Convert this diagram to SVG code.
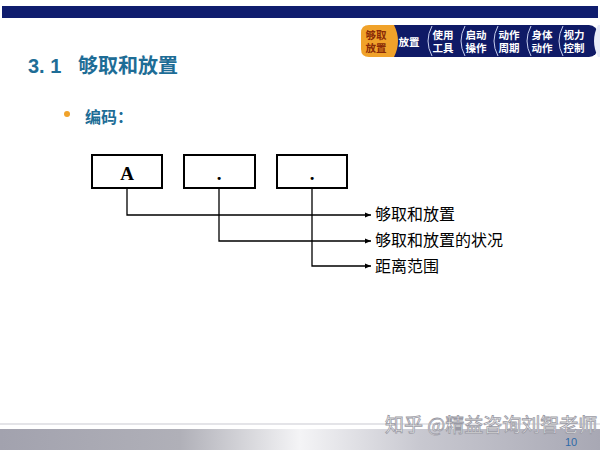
<svg xmlns="http://www.w3.org/2000/svg" width="600" height="450" viewBox="0 0 600 450">
<defs>
<style>
.title{font-family:"Liberation Sans","Noto Sans CJK SC",sans-serif;font-weight:bold;fill:#1e6d96}
.tab{font-family:"Liberation Sans","Noto Sans CJK SC",sans-serif;font-weight:bold;font-size:10.5px;fill:#ffffff;text-anchor:middle}
.box{fill:#ffffff;stroke:#000000;stroke-width:2}
.code{font-family:"Liberation Serif",serif;font-weight:bold;font-size:19px;fill:#000;text-anchor:middle}
.conn{fill:none;stroke:#000;stroke-width:1.3}
.lbl{font-family:"Liberation Sans","Noto Sans CJK SC",sans-serif;font-size:16px;fill:#000}
.sep{fill:none;stroke:#c8d0f0;stroke-width:1}
</style>
<marker id="arr" viewBox="0 0 10 10" refX="10" refY="5" markerWidth="6" markerHeight="6" markerUnits="userSpaceOnUse" orient="auto">
<path d="M0,1 L10,5 L0,9 Z" fill="#000"/>
</marker>
<linearGradient id="foot" x1="0" y1="0" x2="1" y2="0">
<stop offset="0" stop-color="#a2a2ae"/>
<stop offset="0.3" stop-color="#b0b0b8"/>
<stop offset="0.5" stop-color="#f4f4f6"/>
<stop offset="0.7" stop-color="#c8c8d0"/>
<stop offset="1" stop-color="#a8a8b4"/>
</linearGradient>
</defs>
<rect width="600" height="450" fill="#ffffff"/>
<rect x="2" y="6" width="596" height="12" fill="#0f1d6e"/>

<g id="tabs">
<rect x="380" y="25" width="218" height="32" rx="9" fill="#0f1a66"/>
<path d="M369,25 L394,25 Q402,41 394,57 L369,57 Q361,57 361,49 L361,33 Q361,25 369,25 Z" fill="#f0a22a"/>
<path class="sep" d="M432,26 Q424,41 432,56"/>
<path class="sep" d="M465,26 Q457,41 465,56"/>
<path class="sep" d="M498,26 Q490,41 498,56"/>
<path class="sep" d="M531,26 Q523,41 531,56"/>
<path class="sep" d="M563,26 Q555,41 563,56"/>
<path d="M598,25 Q590,41 598,57 L600,57 L600,25 Z" fill="#e8ecf8"/>
<text class="tab" x="376" y="39" style="fill:#8a2a06">够取</text>
<text class="tab" x="376" y="51.5" style="fill:#8a2a06">放置</text>
<text class="tab" x="409" y="45.5">放置</text>
<text class="tab" x="443" y="39">使用</text>
<text class="tab" x="443" y="51.5">工具</text>
<text class="tab" x="476" y="39">启动</text>
<text class="tab" x="476" y="51.5">操作</text>
<text class="tab" x="509" y="39">动作</text>
<text class="tab" x="509" y="51.5">周期</text>
<text class="tab" x="542" y="39">身体</text>
<text class="tab" x="542" y="51.5">动作</text>
<text class="tab" x="574" y="39">视力</text>
<text class="tab" x="574" y="51.5">控制</text>
</g>

<g id="heading">
<text class="title" x="28" y="73" font-size="20">3. 1</text>
<text class="title" x="78" y="73" font-size="20">够取和放置</text>
<circle cx="67" cy="114" r="3" fill="#f0a22a"/>
<text class="title" x="85" y="123" font-size="16">编码：</text>
</g>

<g id="box1">
<rect class="box" x="92" y="155" width="70" height="33"/>
<text class="code" x="127" y="180">A</text>
</g>
<g id="box2">
<rect class="box" x="184" y="155" width="71" height="33"/>
<text class="code" x="219" y="180">.</text>
</g>
<g id="box3">
<rect class="box" x="277" y="155" width="70" height="33"/>
<text class="code" x="312" y="180">.</text>
</g>

<g id="connectors">
<path class="conn" d="M127,189 V215 H371" marker-end="url(#arr)"/>
<path class="conn" d="M219,189 V241 H371" marker-end="url(#arr)"/>
<path class="conn" d="M312,189 V266 H371" marker-end="url(#arr)"/>
</g>

<g id="labels">
<text class="lbl" x="375" y="220">够取和放置</text>
<text class="lbl" x="375" y="246">够取和放置的状况</text>
<text class="lbl" x="375" y="272">距离范围</text>
</g>

<g id="footer">
<rect x="0" y="423" width="600" height="2" fill="#e4e4e8"/>
<rect x="0" y="429" width="600" height="21" fill="url(#foot)"/>
<text x="385" y="432" font-family="'Noto Sans CJK SC',sans-serif" font-size="19" fill="#ffffff" stroke="#9a9aa4" stroke-width="0.8">知乎 @精益咨询刘智老师</text>
<text x="571" y="446" font-family="'Liberation Sans',sans-serif" font-size="11" fill="#2f6aa8" text-anchor="middle">10</text>
</g>
</svg>
